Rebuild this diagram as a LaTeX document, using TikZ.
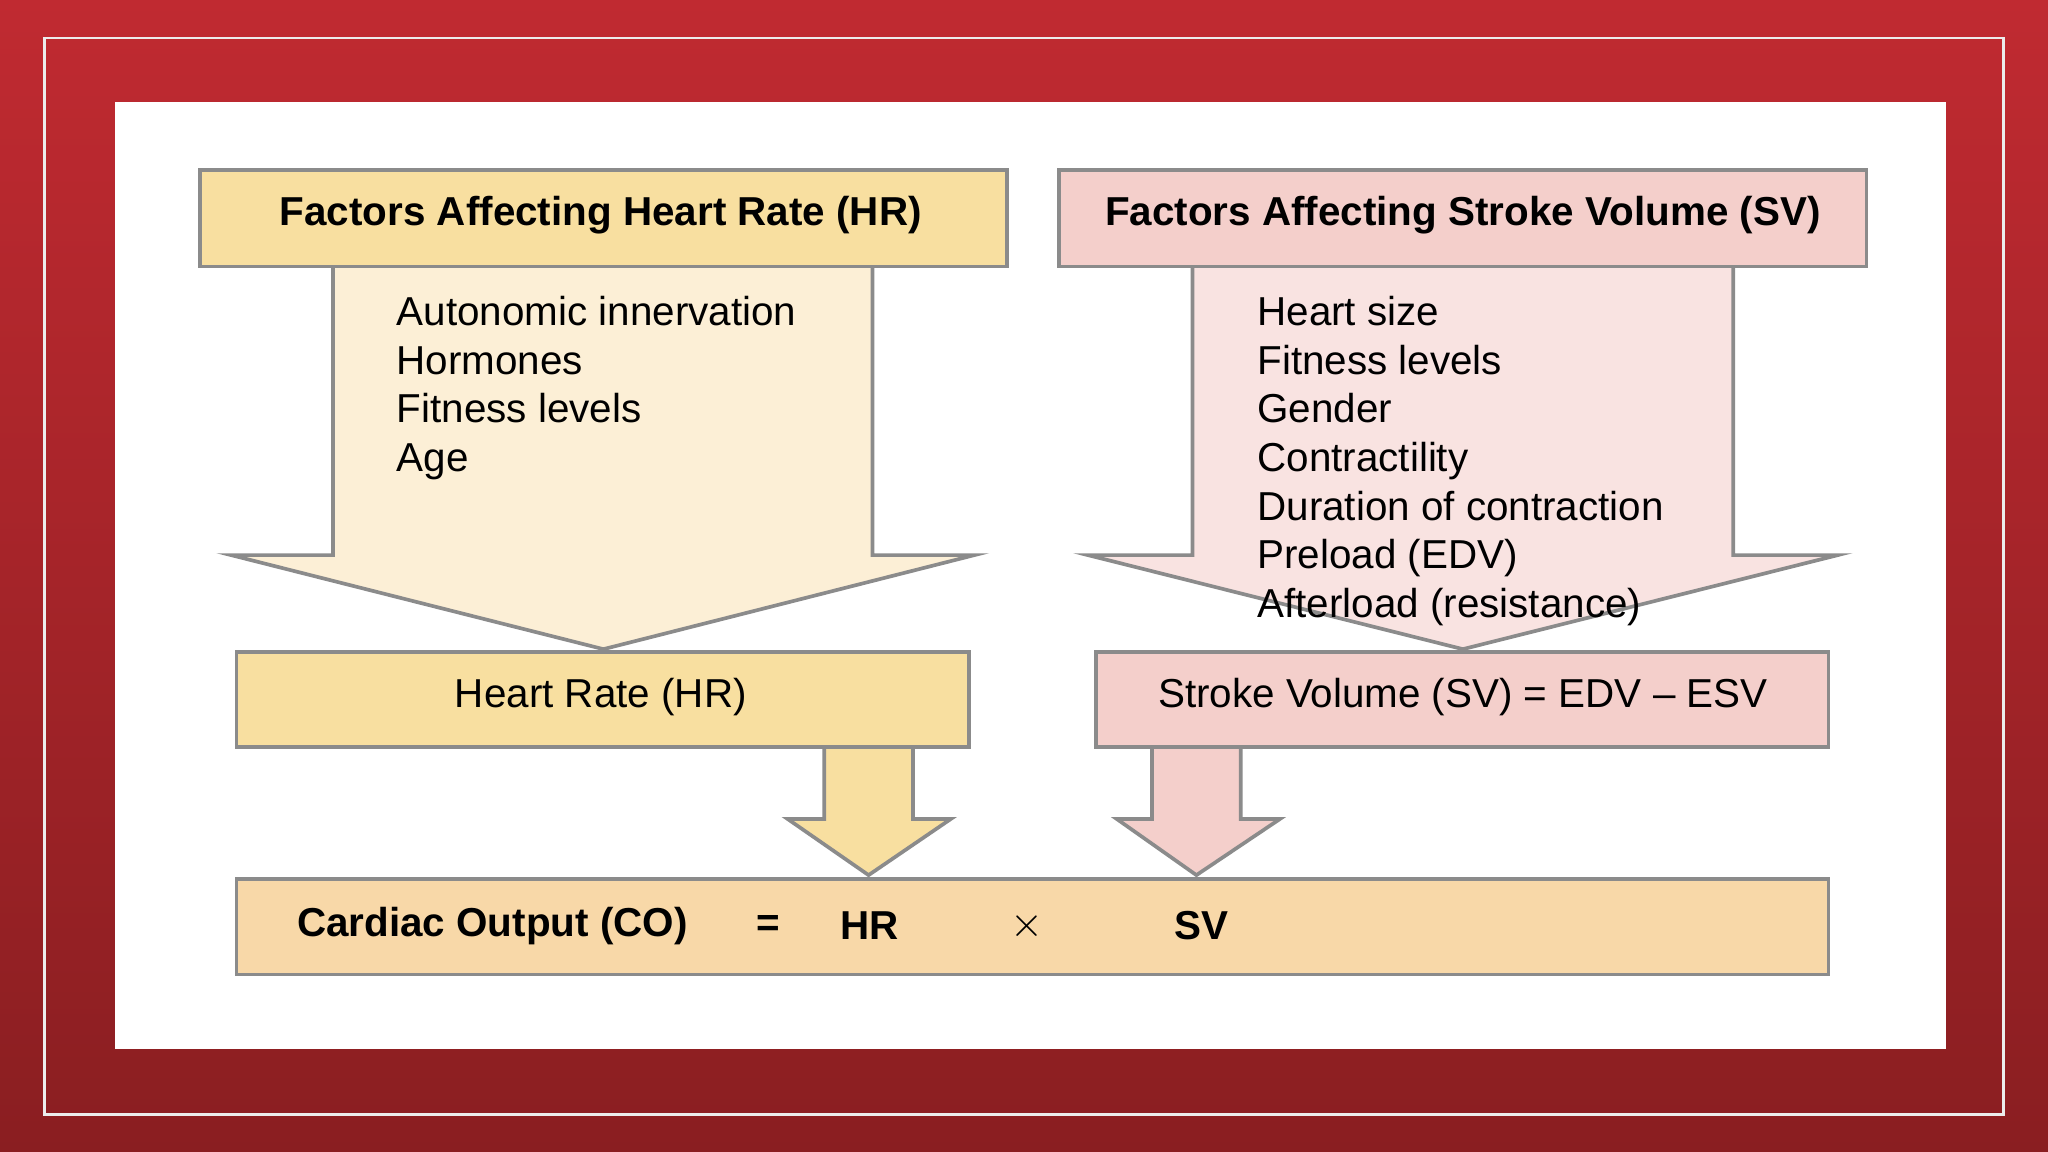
\documentclass[tikz,border=0pt]{standalone}
\usepackage{fontspec}
\setmainfont{Liberation Sans}
\begin{document}
\begin{tikzpicture}[x=0.1mm,y=-0.1mm,
  box/.style={draw=gray!70!black!70, line width=0.8pt},
  lbl/.style={font=\fontsize{8.8}{10.6}\selectfont, inner sep=0pt},
  hdr/.style={font=\fontsize{8.8}{10.6}\selectfont\bfseries, inner sep=0pt}]
\definecolor{redtop}{HTML}{C02A31}
\definecolor{redbot}{HTML}{8A1E21}
\definecolor{yhead}{HTML}{F8DFA0}
\definecolor{ylight}{HTML}{FCEFD6}
\definecolor{phead}{HTML}{F4CFCB}
\definecolor{plight}{HTML}{F9E3E1}
\definecolor{peach}{HTML}{F8D8A8}
\useasboundingbox (0,0) rectangle (1568,882);
\shade[top color=redtop, bottom color=redbot] (0,0) rectangle (1568,882);
\draw[white!85!gray, line width=0.6pt] (34,29) rectangle (1534,853);
\fill[white] (88,78) rectangle (1490,803);
% big arrows
\draw[box, fill=ylight] (255,204) -- (255,425) -- (177,425) -- (462,497) -- (746,425) -- (668,425) -- (668,204);
\draw[box, fill=plight] (913,204) -- (913,425) -- (833,425) -- (1120,497) -- (1407,425) -- (1327,425) -- (1327,204);
% small arrows
\draw[box, fill=yhead] (631,572) -- (631,627) -- (603,627) -- (665,670) -- (728,627) -- (699,627) -- (699,572);
\draw[box, fill=phead] (882,572) -- (882,627) -- (855,627) -- (916,670) -- (980,627) -- (950,627) -- (950,572);
% headers
\draw[box, fill=yhead] (153,130) rectangle (771,204);
\node[hdr] (hrh) at (460,165) {Factors Affecting Heart Rate (HR)};
\draw[box, fill=phead] (811,130) rectangle (1429,204);
\node[hdr] (svh) at (1120,165) {Factors Affecting Stroke Volume (SV)};
% lists
\node[lbl, anchor=north west, align=left] (hrl) at (303,226) {Autonomic innervation\\Hormones\\Fitness levels\\Age};
\node[lbl, anchor=north west, align=left] (svl) at (962,226) {Heart size\\Fitness levels\\Gender\\Contractility\\Duration of contraction\\Preload (EDV)\\Afterload (resistance)};
% mid boxes
\draw[box, fill=yhead] (181,499) rectangle (742,572);
\node[lbl] (hr) at (460,534) {Heart Rate (HR)};
\draw[box, fill=phead] (839,499) rectangle (1400,572);
\node[lbl] (sv) at (1120,534) {Stroke Volume (SV) = EDV -- ESV};
% CO
\draw[box, fill=peach] (181,673) rectangle (1400,746);
\node[hdr] (co) at (377,709) {Cardiac Output (CO)};
\node[hdr] (eq) at (588,709) {=};
\node[hdr] (hr2) at (666,709) {HR};
\node[hdr] (x) at (786,709) {$\times$};
\node[hdr] (sv2) at (920,709) {SV};
\end{tikzpicture}
\end{document}
